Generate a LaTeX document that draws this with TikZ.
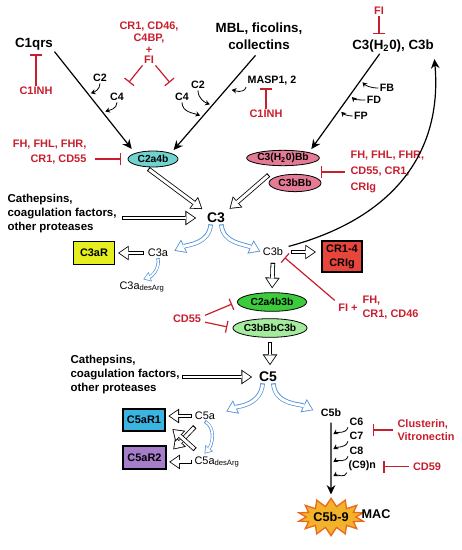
\documentclass[tikz,border=0pt]{standalone}
\usepackage{fontspec}
\setmainfont{Liberation Sans}
\usetikzlibrary{arrows.meta,shapes.geometric,shapes.symbols}

\definecolor{inhred}{HTML}{C81E2D}
\definecolor{tealc}{HTML}{6FD3CF}
\definecolor{pinkc}{HTML}{E57A95}
\definecolor{greenc}{HTML}{3CCB3C}
\definecolor{lgreenc}{HTML}{A5EB9E}
\definecolor{yellowc}{HTML}{E5EF1F}
\definecolor{redboxc}{HTML}{E8463C}
\definecolor{bluec}{HTML}{3BB4E2}
\definecolor{purplec}{HTML}{A57DCB}
\definecolor{arrblue}{HTML}{4F8FD8}
\definecolor{starfill}{HTML}{F2B22A}
\definecolor{stardraw}{HTML}{EA6B1C}

\begin{document}
\begin{tikzpicture}[x=0.75pt,y=-0.75pt,
    big/.style={font=\fontsize{10}{12.5}\selectfont\bfseries, inner sep=1pt},
    sm/.style={font=\fontsize{8}{10}\selectfont\bfseries, inner sep=1pt},
    plain/.style={font=\fontsize{8.2}{10}\selectfont, inner sep=1pt},
    inh/.style={font=\fontsize{8.2}{9}\selectfont\bfseries, text=inhred, inner sep=1pt},
    cath/.style={font=\fontsize{8.6}{10.5}\selectfont\bfseries, align=left, anchor=west, inner sep=1pt},
    cplx/.style={ellipse, draw, line width=0.6pt, inner sep=0pt, font=\fontsize{7.7}{9}\selectfont\bfseries},
    rcpt/.style={draw, line width=1.1pt, inner sep=0pt, font=\fontsize{8.2}{10.5}\selectfont\bfseries},
    arr/.style={-{Stealth[length=7pt,width=6.5pt]}, line width=0.9pt},
    tip/.style={-{Stealth[length=3.5pt,width=4pt]}, line width=0.6pt, shorten >=2pt},
    block/.style={draw=inhred, line width=0.9pt, -{Bar[width=9pt]}},
    hollow/.style={draw=#1, line width=3.4pt, -{Triangle[length=8pt,width=11pt,line width=0pt]},
        postaction={draw=white, line width=2.2pt,
        {Bar[#1,width=3.4pt,line width=0.6pt]}-{Triangle[length=6.3pt,width=8.6pt,sep=1.06pt,line width=0pt]}}},
    hollow/.default=black,
    hollowsm/.style={draw=#1, line width=2.4pt, -{Triangle[length=5.5pt,width=7.5pt,line width=0pt]},
        postaction={draw=white, line width=1.4pt,
        {Bar[#1,width=2.4pt,line width=0.5pt]}-{Triangle[length=4.1pt,width=5.6pt,sep=0.9pt,line width=0pt]}}},
    hollowsm/.default=arrblue]

    \useasboundingbox (0,0) rectangle (461,550);

    % initiators
    \node[big] (c1qrs) at (34,44) {C1qrs};
    \node[inh] (c1inhA) at (36,91) {C1INH};
    \node[inh, align=center] (cofL) at (149,38) {CR1, CD46,\\C4BP,\\+};
    \node[inh] (fiL) at (149,60) {FI};
    \node[big, align=center] (mbl) at (259,36.5) {MBL, ficolins,\\collectins};
    \node[sm] (masp) at (272,81) {MASP1, 2};
    \node[inh] (c1inhB) at (266,114) {C1INH};
    \node[inh] (fiR) at (379,11) {FI};
    \node[big] (c3h2o) at (393,46) {C3(H\textsubscript{2}0), C3b};
    \node[sm] (c2L) at (100,78) {C2};
    \node[sm] (c4L) at (117,97) {C4};
    \node[sm] (c2R) at (198,85) {C2};
    \node[sm] (c4R) at (182,97) {C4};
    \node[sm] (fb) at (387,88) {FB};
    \node[sm] (fd) at (374,100) {FD};
    \node[sm] (fp) at (361,116) {FP};

    % C3 convertases
    \node[cplx, fill=tealc, minimum width=37.5pt, minimum height=12pt] (c2a4b) at (153,159) {C2a4b};
    \node[cplx, fill=pinkc, minimum width=50pt, minimum height=11.5pt] (c3h2obb) at (283,158) {C3(H\textsubscript{2}0)Bb};
    \node[cplx, fill=pinkc, minimum width=39pt, minimum height=13pt] (c3bbb) at (295,183) {C3bBb};
    \node[inh, align=right, anchor=east, font=\fontsize{8.2}{11}\selectfont\bfseries] (fhL) at (88,152) {FH, FHL, FHR,\\CR1, CD55};
    \node[inh, align=left, anchor=west, font=\fontsize{8.2}{12}\selectfont\bfseries] (fhR) at (349,172) {FH, FHL, FHR,\\CD55, CR1,\\CRIg};
    \node[big, font=\fontsize{10.5}{12}\selectfont\bfseries] (c3) at (216,218) {C3};
    \node[cath] (cath1) at (6,214) {Cathepsins,\\coagulation factors,\\other proteases};

    % C3 cleavage
    \node[plain] (c3a) at (158,253) {C3a};
    \node[plain] (c3b) at (273,252) {C3b};
    \node[rcpt, fill=yellowc, minimum width=31pt, minimum height=17pt] (c3ar) at (94,253) {C3aR};
    \node[rcpt, fill=redboxc, minimum width=30pt, minimum height=23pt, align=center] (cr14) at (342,256.5) {CR1-4\\CRIg};
    \node[plain, anchor=base west] (c3ad) at (118,289) {C3a\textsubscript{desArg}};
    \node[inh] (fiplus) at (348,307.5) {FI +};
    \node[inh, align=left, anchor=west, font=\fontsize{8.2}{10}\selectfont\bfseries] (fhcr) at (361,307.5) {FH,\\CR1, CD46};

    % C5 convertases
    \node[cplx, fill=greenc, minimum width=52pt, minimum height=14pt] (c2a4b3b) at (272,302) {C2a4b3b};
    \node[cplx, fill=lgreenc, minimum width=55pt, minimum height=14pt] (c3bbbc3b) at (270,328) {C3bBbC3b};
    \node[inh] (cd55) at (187,319) {CD55};
    \node[big, font=\fontsize{10.5}{12}\selectfont\bfseries] (c5) at (268,377) {C5};
    \node[cath] (cath2) at (69,375) {Cathepsins,\\coagulation factors,\\other proteases};

    % C5 cleavage
    \node[plain] (c5a) at (205,416) {C5a};
    \node[rcpt, fill=bluec, minimum width=31.5pt, minimum height=16.5pt] (c5ar1) at (144,420) {C5aR1};
    \node[rcpt, fill=purplec, minimum width=32pt, minimum height=17pt] (c5ar2) at (144.5,457.5) {C5aR2};
    \node[plain, anchor=base west] (c5ad) at (193,464) {C5a\textsubscript{desArg}};
    \node[sm] (c5b) at (331,413) {C5b};
    \node[sm, anchor=west] (c6) at (348,422) {C6};
    \node[sm, anchor=west] (c7) at (348,436) {C7};
    \node[sm, anchor=west] (c8) at (348,451) {C8};
    \node[sm, anchor=west] (c9n) at (347,466) {(C9)n};
    \node[inh, align=left, anchor=west, font=\fontsize{8.2}{10}\selectfont\bfseries] (clust) at (396,430) {Clusterin,\\Vitronectin};
    \node[inh] (cd59) at (427,466.5) {CD59};
    \node[starburst, starburst points=14, starburst point height=6pt, random starburst=0,
          fill=starfill, draw=stardraw, line width=1pt, minimum width=36pt, minimum height=28pt,
          inner sep=0pt, font=\fontsize{9.5}{11}\selectfont\bfseries] (mac) at (331,517) {C5b-9};
    \node[big, font=\fontsize{9.5}{11}\selectfont\bfseries] (mactxt) at (376,514) {MAC};

    % activating arrows
    \draw[arr, shorten >=4pt] (c1qrs.south east) -- coordinate[pos=0.42] (k1) coordinate[pos=0.6] (k2) (c2a4b.north west);
    \draw[arr, shorten <=4pt, shorten >=3pt] (mbl.south) -- coordinate[pos=0.37] (k5) coordinate[pos=0.53] (k3) coordinate[pos=0.64] (k4) (c2a4b.north east);
    \draw[arr, shorten >=3pt] ([xshift=-10pt]c3h2o.south) -- coordinate[pos=0.27] (k6) coordinate[pos=0.42] (k7) coordinate[pos=0.57] (k8) (c3h2obb.north east);
    \draw[tip] (c2L.south) to[out=-90,in=20] (k1);
    \draw[tip] (c4L.south) to[out=-90,in=20] (k2);
    \draw[tip] (c2R.south) to[out=-90,in=160] (k3);
    \draw[tip] (c4R.south) to[out=-90,in=160] (k4);
    \draw[tip, shorten >=4pt] (masp.south west) to[out=-110,in=-10] (k5);
    \draw[tip] (fb.west) to[out=180,in=-45] (k6);
    \draw[tip] (fd.west) to[out=180,in=-45] (k7);
    \draw[tip] (fp.west) to[out=180,in=-45] (k8);
    \draw[arr, shorten >=4pt] ([xshift=3pt]c3b.north east) to[out=15,in=-85,looseness=1.1] ([xshift=-1pt]c3h2o.south east);

    % hollow arrows
    \draw[hollow, shorten <=2pt, shorten >=3pt] ([xshift=-5pt]c2a4b.south) -- (c3.north west);
    \draw[hollow, shorten >=3pt] ([yshift=6pt]c3bbb.west) -- (c3.north east);
    \draw[hollow, shorten <=3pt, shorten >=7pt] (cath1.east |- c3) -- (c3.west);
    \draw[hollow, shorten <=2pt, shorten >=2pt] (c3a.west) -- (c3ar.east);
    \draw[hollow, shorten <=5pt, shorten >=4pt] (c3b.east) -- (c3b.east -| cr14.west);
    \draw[hollow, shorten <=4pt, shorten >=3pt] (c3b.south) -- (c2a4b3b.north);
    \draw[hollow, shorten <=3pt, shorten >=4pt] (c3bbbc3b.south) -- (c3bbbc3b.south |- c5.north);
    \draw[hollow, shorten <=1pt, shorten >=4pt] (cath2.east |- c5) -- (c5.west);
    \draw[hollow, shorten <=1pt, shorten >=2pt] (c5a.west) -- (c5a.west -| c5ar1.east);
    \draw[hollow, shorten <=1pt, shorten >=2pt] (c5ad.west) -- (c5ad.west -| c5ar2.east);
    \draw[hollow] ([shift={(1pt,-4pt)}]c5a.south west) -- ([shift={(5pt,-3pt)}]c5ar2.north east);
    \draw[hollow] ([shift={(1.5pt,4pt)}]c5ad.north west) -- ([shift={(5pt,2pt)}]c5ar1.south east);

    % blue cleavage arrows
    \draw[hollow=arrblue, shorten >=4pt] ([xshift=-4pt]c3.south) to[out=-95,in=25] (c3a.east);
    \draw[hollow=arrblue, shorten >=1pt] ([xshift=4pt]c3.south) to[out=-85,in=155] (c3b.west);
    \draw[hollowsm, shorten >=1pt] (c3a.south) to[out=-80,in=20] (c3ad.north);
    \draw[hollow=arrblue, shorten >=8pt] ([xshift=-4pt]c5.south) to[out=-95,in=25] (c5a.east);
    \draw[hollow=arrblue, shorten >=5pt] ([xshift=4pt]c5.south) to[out=-85,in=155] (c5b.west);
    \draw[hollowsm, shorten >=1pt] (c5a.south) to[out=-30,in=50] ([xshift=8pt]c5ad.north west);

    % MAC assembly
    \draw[arr, shorten <=3pt, shorten >=2pt] (c5b.south) -- coordinate[pos=0.215] (k9) coordinate[pos=0.405] (k10) coordinate[pos=0.57] (k11) coordinate[pos=0.75] (k12) (mac.north);
    \draw[tip] (c6.south west) to[out=-110,in=30] (k9);
    \draw[tip] (c7.south west) to[out=-110,in=30] (k10);
    \draw[tip] (c8.south west) to[out=-110,in=30] (k11);
    \draw[tip] (c9n.south west) to[out=-110,in=30] (k12);

    % inhibitors
    \draw[block, shorten >=2pt] (c1inhA.north) -- (c1inhA.north |- c1qrs.south);
    \draw[block, shorten >=9pt] (fiL.south west) -- (c4L);
    \draw[block, shorten >=9pt] (fiL.south east) -- (c4R);
    \draw[block, shorten >=1pt] (c1inhB.north) -- (c1inhB.north |- masp.south);
    \draw[block, shorten >=3pt] (fiR.south) -- (fiR.south |- c3h2o.north);
    \draw[block, shorten <=5pt, shorten >=5pt] (fhL.east |- c2a4b) -- (c2a4b.west);
    \draw[block, shorten <=3pt, shorten >=1pt] (fhR.west) -- (fhR.west -| c3h2obb.east);
    \draw[block, shorten <=2pt] (fiplus.north west) -- (c3b.south east);
    \draw[block, shorten <=2pt, shorten >=4pt] ([yshift=2pt]cd55.east) -- (c2a4b3b.west);
    \draw[block, shorten <=2pt, shorten >=4pt] ([yshift=-2pt]cd55.east) -- (c3bbbc3b.west);
    \draw[block, shorten <=2pt, shorten >=6pt] (clust.west) -- (clust.west -| c8.east);
    \draw[block, shorten <=2pt, shorten >=4.5pt] (cd59.west) -- (cd59.west -| c9n.east);
    %
\end{tikzpicture}
\end{document}
